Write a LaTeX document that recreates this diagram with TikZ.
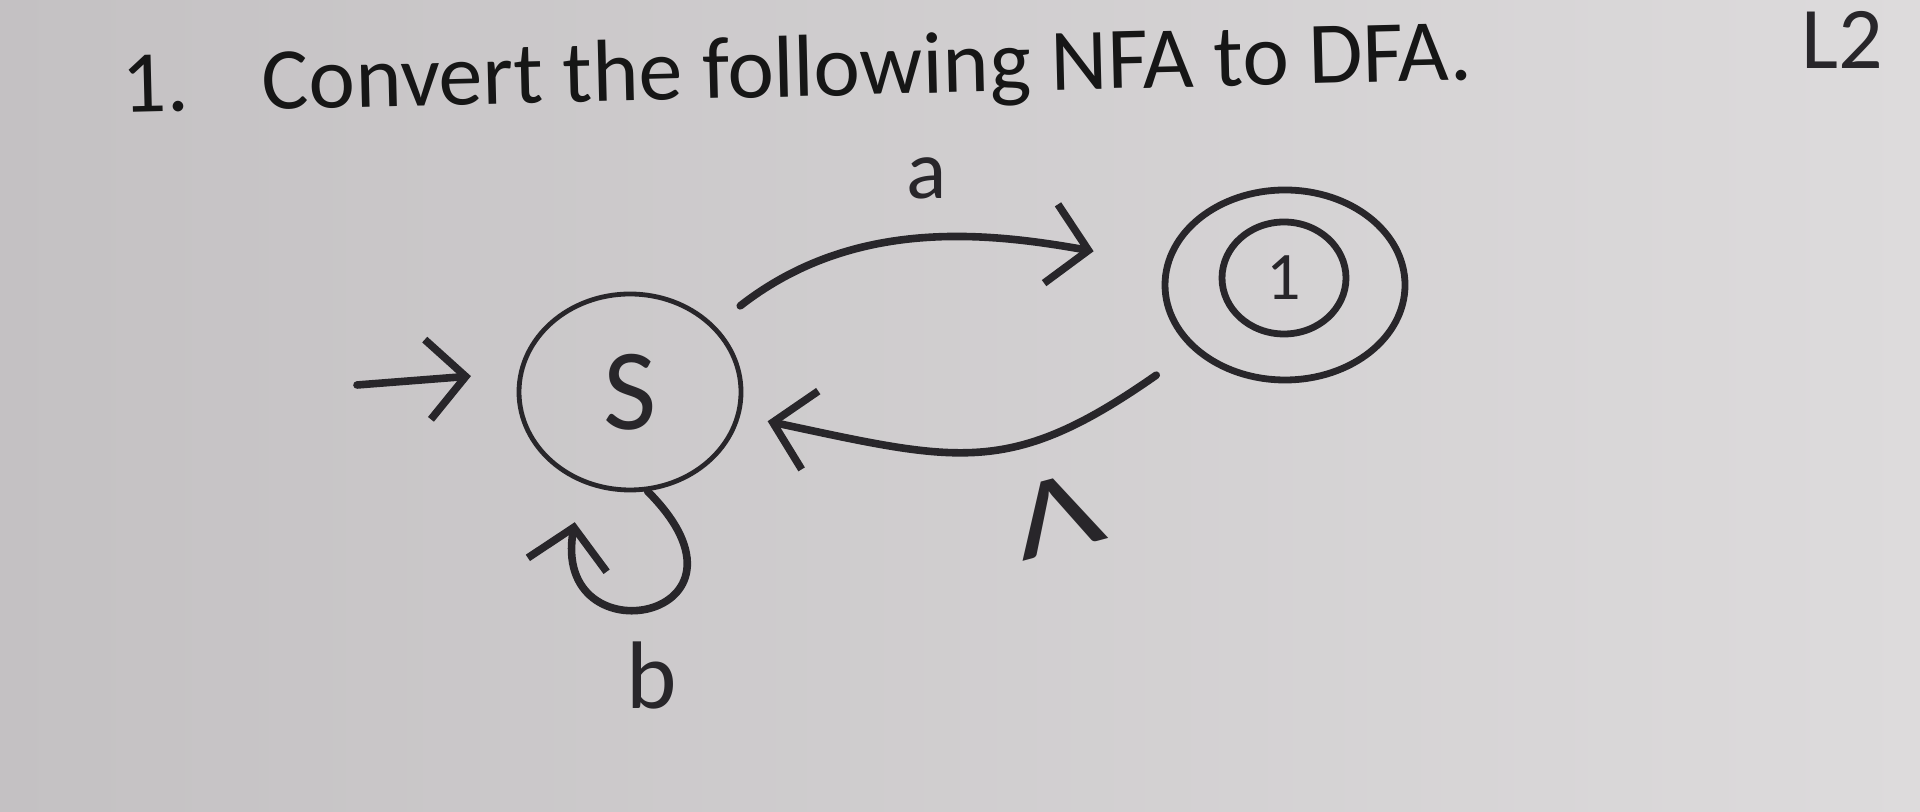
\documentclass[tikz,border=0pt]{standalone}
\usepackage{fontspec}
\setmainfont{Carlito}
\usetikzlibrary{arrows.meta,shapes.geometric}

\definecolor{paperl}{RGB}{196,193,195}
\definecolor{paperr}{RGB}{221,219,220}
\definecolor{pencil}{RGB}{40,38,42}
\definecolor{ink}{RGB}{22,22,22}

\tikzset{
  state/.style={ellipse, draw=pencil, line width=2.4pt, inner sep=0pt},
  trans/.style={draw=pencil, line width=3.8pt, line cap=round,
    -{Straight Barb[length=19pt,width=40pt]}},
  hand/.style={text=pencil, inner sep=0pt}
}

\begin{document}
\begin{tikzpicture}[x=0.5pt,y=0.5pt]

%Paper
\shade [left color=paperl, right color=paperr] (0,0) rectangle (1920,812);
\useasboundingbox (0,0) rectangle (1920,812);

%Title
\node [text=ink, anchor=base west, rotate=1.4, inner sep=0pt, font=\fontsize{44}{44}\selectfont] (title) at (122,699) {1.\hspace*{0.84em}Convert the following NFA to DFA.};
\node [hand, font=\fontsize{44}{44}\selectfont] (mark) at (1842,772) {L2};

%States
\node [state, minimum width=111pt, minimum height=98pt, font=\fontsize{58}{58}\selectfont, text=pencil] (s) at (630,420) {S};
\node [state, minimum width=120pt, minimum height=95pt, line width=3.4pt] (f) at (1285,527) {};
\node [state, minimum width=62pt, minimum height=56pt, line width=3.4pt, font=\fontsize{34}{34}\selectfont, text=pencil] (f1) at (1284,534) {1};

%Start
\coordinate (init) at (357,427);
\draw [trans, shorten >=24pt] (init) -- (s.170);

%Curve Lines
\draw [trans, shorten <=16pt, shorten >=36pt] (s) to[out=38, in=170] (f);
\draw [trans, shorten <=22pt, shorten >=14pt, looseness=1.25] (f) to[out=215, in=-12] (s);
\draw [trans, shorten >=20pt, looseness=7] (s.-80) to[out=-45, in=-100] (s.-118);

%Labels
\node [hand, font=\fontsize{42}{42}\selectfont] (la) at (927,634) {a};
\node [hand, font=\fontsize{48}{48}\selectfont] (lb) at (652,136) {b};
\node [hand, font=\fontsize{56}{56}\selectfont, rotate=15, xscale=1.4] (llam) at (1057,297) {Λ};

\end{tikzpicture}
\end{document}
